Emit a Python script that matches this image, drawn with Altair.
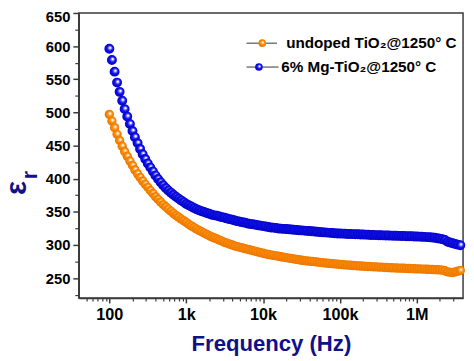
import altair as alt
import pandas as pd

# ---------------- data ----------------
freq_hz = [
    100, 108, 117, 126, 136, 147, 158, 171, 185, 200,
    215, 233, 251, 271, 293, 316, 341, 369, 398, 430,
    464, 501, 541, 584, 631, 681, 736, 794, 858, 926,
    1000, 1080, 1166, 1259, 1359, 1468, 1585, 1711, 1848, 1995,
    2154, 2326, 2512, 2712, 2929, 3162, 3415, 3687, 3981, 4299,
    4642, 5012, 5412, 5843, 6310, 6813, 7356, 7943, 8577, 9261,
    10000, 10800, 11660, 12590, 13590, 14680, 15850, 17110, 18480, 19950,
    21540, 23260, 25120, 27120, 29290, 31620, 34150, 36870, 39810, 42990,
    46420, 50120, 54120, 58430, 63100, 68130, 73560, 79430, 85770, 92610,
    100000, 108000, 116600, 125900, 135900, 146800, 158500, 171100, 184800, 199500,
    215400, 232600, 251200, 271200, 292900, 316200, 341500, 368700, 398100, 429900,
    464200, 501200, 541200, 584300, 631000, 681300, 735600, 794300, 857700, 926100,
    1000000, 1080000, 1166000, 1259000, 1359000, 1468000, 1585000, 1711000, 1848000, 1995000,
    2154000, 2326000, 2512000, 2712000, 2929000, 3162000, 3415000, 3687000,
]

eps_undoped = [
    497, 487, 477, 467, 457.7, 449, 441, 433.7, 426.7, 420,
    413.3, 407.3, 402, 396.7, 391.7, 387, 382.3, 377.7, 373, 369,
    365, 361, 357.7, 354.3, 351, 347.7, 344.7, 342, 339.3, 336.7,
    334, 331.3, 328.8, 326.5, 324.2, 322, 320, 318, 316, 314,
    312.3, 310.7, 309, 307.3, 305.7, 304, 302.7, 301.3, 300, 298.7,
    297.5, 296.5, 295.5, 294.5, 293.5, 292.5, 291.5, 290.5, 289.5, 288.5,
    287.5, 286.5, 285.7, 285, 284.3, 283.7, 283, 282.3, 281.7, 281,
    280.3, 279.7, 279, 278.3, 277.7, 277, 276.5, 276.1, 275.6, 275.2,
    274.8, 274.3, 273.9, 273.5, 273, 272.6, 272.2, 271.8, 271.4, 271,
    270.7, 270.4, 270, 269.7, 269.4, 269.1, 268.8, 268.5, 268.3, 268,
    267.7, 267.5, 267.3, 267.1, 266.9, 266.7, 266.5, 266.3, 266.1, 265.9,
    265.7, 265.5, 265.3, 265.1, 265, 264.9, 264.7, 264.5, 264.4, 264.2,
    264, 263.9, 263.7, 263.6, 263.4, 263.2, 263, 262.8, 262.6, 262.4,
    262.1, 261.2, 259.5, 258.8, 258.6, 259.5, 260.5, 261.5,
]

eps_mg = [
    596, 579, 561.5, 545, 531, 517.7, 505, 493.7, 482.7, 472,
    462.7, 453.7, 445, 437, 429.7, 423, 417, 411, 405, 399.7,
    394.7, 390, 386, 382.3, 379, 375.7, 372.7, 370, 367.3, 364.7,
    362, 360, 358, 356, 354, 352.3, 351, 349.7, 348.3, 347,
    345.7, 344.7, 344, 343, 342, 341, 340, 339, 338, 337,
    336, 335, 334.3, 333.5, 332.5, 331.8, 331.2, 330.5, 329.8, 329.2,
    328.5, 327.8, 327.2, 326.5, 326.2, 325.7, 325, 324.7, 324.3, 324,
    323.7, 323.3, 323, 322.7, 322.3, 322, 321.7, 321.3, 321, 320.7,
    320.3, 320, 319.7, 319.3, 319, 318.7, 318.3, 318, 317.7, 317.4,
    317.2, 317.1, 316.9, 316.7, 316.6, 316.4, 316.2, 316.1, 315.9, 315.7,
    315.6, 315.4, 315.2, 315.1, 314.9, 314.8, 314.7, 314.5, 314.4, 314.3,
    314.1, 314, 313.9, 313.7, 313.6, 313.5, 313.3, 313.2, 313.1, 312.9,
    312.8, 312.6, 312.4, 312.2, 311.9, 311.6, 311.3, 310.8, 310.3, 309.6,
    308.8, 307.5, 305, 303.7, 302.5, 301.5, 300.5, 299.5,
]

series_names = ["undoped TiO\u2082@1250\u00b0 C", "6% Mg-TiO\u2082@1250\u00b0 C"]

x_major = [100, 1000, 10000, 100000, 1000000]
x_major_labels = ["100", "1k", "10k", "100k", "1M"]
x_minor = [50, 60, 70, 80, 90,
           200, 300, 400, 500, 600, 700, 800, 900,
           2000, 3000, 4000, 5000, 6000, 7000, 8000, 9000,
           20000, 30000, 40000, 50000, 60000, 70000, 80000, 90000,
           200000, 300000, 400000, 500000, 600000, 700000, 800000, 900000,
           2000000, 3000000]
y_major = [250, 300, 350, 400, 450, 500, 550, 600, 650]
y_minor = [225, 275, 325, 375, 425, 475, 525, 575, 625]

# ---------------- styling ----------------
FONT = "Liberation Sans"
NAVY = "#10108a"
AXIS_COL = "#3a3a3a"
W, H = 391, 290

df_u = pd.DataFrame({"f": freq_hz, "eps": eps_undoped})
df_m = pd.DataFrame({"f": freq_hz, "eps": eps_mg})

xscale = alt.Scale(type="log", domain=[40, 4000000], nice=False)
yscale = alt.Scale(domain=[220, 650], nice=False, zero=False)

label_expr = ""
for v, lab in zip(x_major, x_major_labels):
    label_expr += f"datum.value == {v} ? '{lab}' : "
label_expr += "''"


def sphere(main, dark, light):
    return alt.RadialGradient(
        gradient="radial",
        stops=[
            alt.GradientStop(color="#ffffff", offset=0.0),
            alt.GradientStop(color="#ffffff", offset=0.12),
            alt.GradientStop(color=light, offset=0.3),
            alt.GradientStop(color=main, offset=0.5),
            alt.GradientStop(color=dark, offset=1.0),
        ],
        x1=0.6, y1=0.38, r1=0.0,
        x2=0.5, y2=0.5, r2=0.55,
    )


orange_fill = sphere("#ff8a00", "#e57200", "#ffb35a")
blue_fill = sphere("#1010f5", "#0000b8", "#7070ff")

x_major_axis = alt.Axis(
    orient="bottom", values=x_major, labelExpr=label_expr,
    tickSize=5, tickWidth=1.5, tickColor=AXIS_COL,
    domainColor=AXIS_COL, domainWidth=1.5,
    labelFont=FONT, labelFontWeight="bold", labelFontSize=16.5, labelColor="black",
    labelPadding=4, labelFlush=False, labelOverlap=False,
    title="Frequency (Hz)", titleFont=FONT, titleFontWeight="bold",
    titleFontSize=22.5, titleColor=NAVY, titlePadding=10, grid=False,
)
y_major_axis = alt.Axis(
    orient="left", values=y_major,
    tickSize=6, tickWidth=1.5, tickColor=AXIS_COL,
    domainColor=AXIS_COL, domainWidth=1.5,
    labelFont=FONT, labelFontWeight="bold", labelFontSize=15, labelColor="black",
    labelPadding=3, labelFlush=False, labelOverlap=False,
    labelOffset={"condition": {"test": "datum.value == 650", "value": 4}, "value": 0},
    title=None, grid=False,
)
x_minor_axis = alt.Axis(
    orient="bottom", values=x_minor, labels=False, tickSize=3, tickWidth=1.2,
    tickColor=AXIS_COL, domain=False, title=None, grid=False,
)
y_minor_axis = alt.Axis(
    orient="left", values=y_minor, labels=False, tickSize=4, tickWidth=1.2,
    tickColor=AXIS_COL, domain=False, title=None, grid=False,
)

orange = alt.Chart(df_u).mark_point(
    shape="circle", filled=True, fill=orange_fill, size=90, opacity=1, strokeWidth=0
).encode(
    x=alt.X("f:Q", scale=xscale, axis=x_major_axis),
    y=alt.Y("eps:Q", scale=yscale, axis=y_major_axis),
)

blue = alt.Chart(df_m).mark_point(
    shape="circle", filled=True, fill=blue_fill, size=102, opacity=1, strokeWidth=0
).encode(
    x=alt.X("f:Q", scale=xscale, axis=None),
    y=alt.Y("eps:Q", scale=yscale, axis=None),
)

minor = alt.Chart(df_u).mark_point(opacity=0).encode(
    x=alt.X("f:Q", scale=xscale, axis=x_minor_axis),
    y=alt.Y("eps:Q", scale=yscale, axis=y_minor_axis),
)

one = pd.DataFrame({"a": [0]})

# legend (manual)
leg_layers = []
leg_rows = [
    (series_names[0], orange_fill, 30.7, 170.7, 201.7, 186.7, 211),
    (series_names[1], blue_fill, 55.0, 170.7, 203.3, 183.3, 206),
]
for name, fill, yy, xa, xb, xm, xt in leg_rows:
    leg_layers.append(
        alt.Chart(one).mark_rule(color="#333333", strokeWidth=1).encode(
            x=alt.value(xa), x2=alt.value(xb), y=alt.value(yy)
        )
    )
    leg_layers.append(
        alt.Chart(one).mark_point(
            shape="circle", filled=True, fill=fill, size=60, opacity=1, strokeWidth=0
        ).encode(x=alt.value(xm), y=alt.value(yy))
    )
    leg_layers.append(
        alt.Chart(pd.DataFrame({"t": [name]})).mark_text(
            font=FONT, fontWeight="bold", fontSize=15.5, color="black",
            align="left", baseline="middle"
        ).encode(x=alt.value(xt), y=alt.value(yy), text="t:N")
    )

# y title: epsilon with subscript r, rotated
eps_txt = alt.Chart(one).mark_text(
    text="\u03b5", font=FONT, fontWeight="bold", fontSize=30, color=NAVY,
    angle=270, align="center", baseline="alphabetic"
).encode(x=alt.value(-54), y=alt.value(178))
r_txt = alt.Chart(one).mark_text(
    text="r", font=FONT, fontWeight="bold", fontSize=22, color=NAVY,
    angle=270, align="center", baseline="alphabetic"
).encode(x=alt.value(-42), y=alt.value(165))

chart = alt.layer(
    minor, orange, blue, *leg_layers, eps_txt, r_txt
).resolve_axis(
    x="independent", y="independent"
).properties(
    width=W, height=H,
    autosize=alt.AutoSizeParams(type="none"),
    padding={"left": 72, "top": 2, "right": 3, "bottom": 61},
    background="white",
).configure_view(
    stroke=AXIS_COL, strokeWidth=1.5
)

chart.save("out.html", embed_options={"renderer": "svg", "actions": False})
